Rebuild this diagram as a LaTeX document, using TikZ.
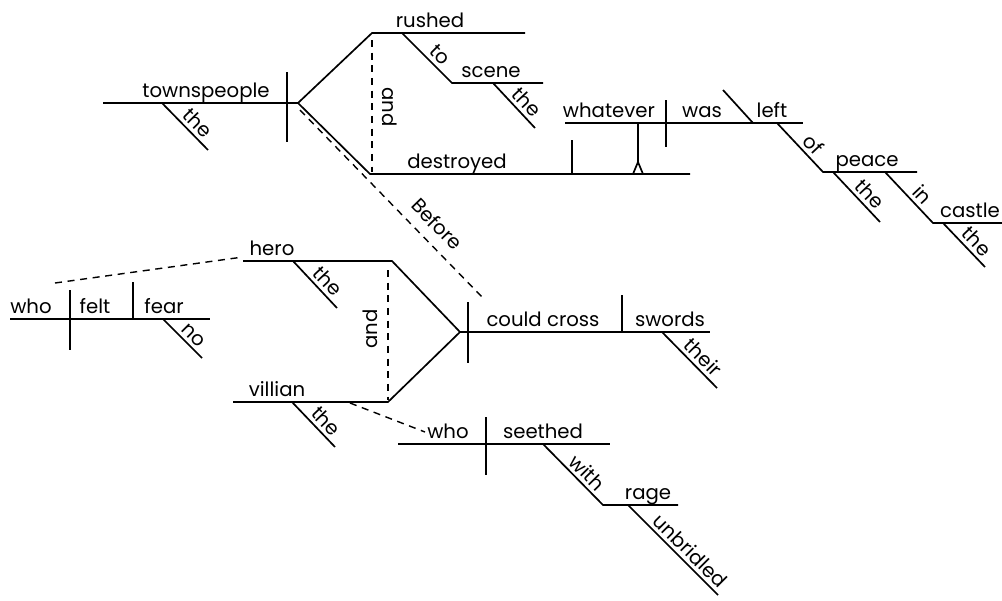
\documentclass[tikz,border=0pt]{standalone}
\usepackage{fontspec}
\setmainfont{Poppins}

\begin{document}
\begin{tikzpicture}[
    x=0.025cm, y=-0.025cm,
    base/.style={line width=1.2pt},
    conn/.style={line width=1pt, dash pattern=on 5pt off 4pt},
    word/.style={anchor=base, inner sep=0pt, font=\fontsize{14}{14}\selectfont},
    mod/.style={inner sep=0pt, font=\fontsize{14}{14}\selectfont, sloped, above=2.5pt, pos=0.6}
  ]
    \useasboundingbox (0,0) rectangle (1002,600);
    % main clause: townspeople rushed and destroyed
    \draw[base] (103,103) -- (298,103);
    \draw[base] (287,72) -- (287,142);
    \draw[base] (162,103) -- node[mod] (tTown) {the} (208,150);
    \draw[base] (525,33) -- (372,33) -- (298,103) -- (370,174) -- (690,174);
    \draw[conn] (372,40) -- (372,172);
    \node[word, rotate=-90, anchor=center] (and1) at (390,107) {and};
    \draw[base] (402,33) -- node[mod] (to) {to} (452,83) -- (543,83);
    \draw[base] (493,83) -- node[mod] (tScene) {the} (535,128);
    \node[word] (townspeople) at (206,97) {townspeople};
    \node[word] (rushed) at (430,27) {rushed};
    \node[word] (scene) at (491,77) {scene};
    \node[word] (destroyed) at (457,168) {destroyed};
    \draw[conn] (300,110) -- node[mod, pos=0.68, above=5pt] (before) {Before} (482,297);
    % noun clause as object
    \draw[base] (572,140) -- (572,174);
    \draw[base] (565,123) -- (803,123);
    \draw[base] (638,123) -- (638,162);
    \draw[base] (633,174) -- (638,162) -- (643,174);
    \draw[base] (666,100) -- (666,147);
    \draw[base] (723,90) -- (753,123);
    \draw[base] (777,123) -- node[mod] (of) {of} (823,172) -- (917,172);
    \draw[base] (833,172) -- node[mod] (tPeace) {the} (880,222);
    \draw[base] (885,172) -- node[mod] (in) {in} (933,223) -- (1002,223);
    \draw[base] (943,223) -- node[mod] (tCastle) {the} (985,267);
    \node[word] (whatever) at (609,117) {whatever};
    \node[word] (was) at (702,117) {was};
    \node[word] (left) at (772,117) {left};
    \node[word] (peace) at (867,166) {peace};
    \node[word] (castle) at (970,217) {castle};
    % who felt fear
    \draw[base] (10,319) -- (210,319);
    \draw[base] (70,290) -- (70,350);
    \draw[base] (133,282) -- (133,319);
    \draw[base] (163,319) -- node[mod] (no) {no} (202,358);
    \node[word] (who1) at (31,313) {who};
    \node[word] (felt) at (95,313) {felt};
    \node[word] (fear) at (164,313) {fear};
    \draw[conn] (55,283) -- (243,257);
    % hero and villian could cross swords
    \draw[base] (243,261) -- (392,261) -- (460,332) -- (388,402) -- (233,402);
    \draw[conn] (388,270) -- (388,400);
    \node[word, rotate=90, anchor=center] (and2) at (370,329) {and};
    \draw[base] (293,261) -- node[mod] (tHero) {the} (337,308);
    \draw[base] (292,402) -- node[mod] (tVillian) {the} (335,447);
    \node[word] (hero) at (272,255) {hero};
    \node[word] (villian) at (277,396) {villian};
    \draw[base] (460,332) -- (710,332);
    \draw[base] (468,302) -- (468,363);
    \draw[base] (622,295) -- (622,332);
    \draw[base] (662,332) -- node[mod] (their) {their} (717,388);
    \node[word] (could) at (543,326) {could cross};
    \node[word] (swords) at (670,326) {swords};
    % who seethed with rage
    \draw[conn] (350,403) -- (425,432);
    \draw[base] (398,444) -- (610,444);
    \draw[base] (486,417) -- (486,475);
    \draw[base] (543,444) -- node[mod] (with) {with} (603,505) -- (678,505);
    \draw[base] (628,505) -- node[mod] (unbridled) {unbridled} (718,595);
    \node[word] (who2) at (448,438) {who};
    \node[word] (seethed) at (543,438) {seethed};
    \node[word] (rage) at (648,499) {rage};
  \end{tikzpicture}
\end{document}
